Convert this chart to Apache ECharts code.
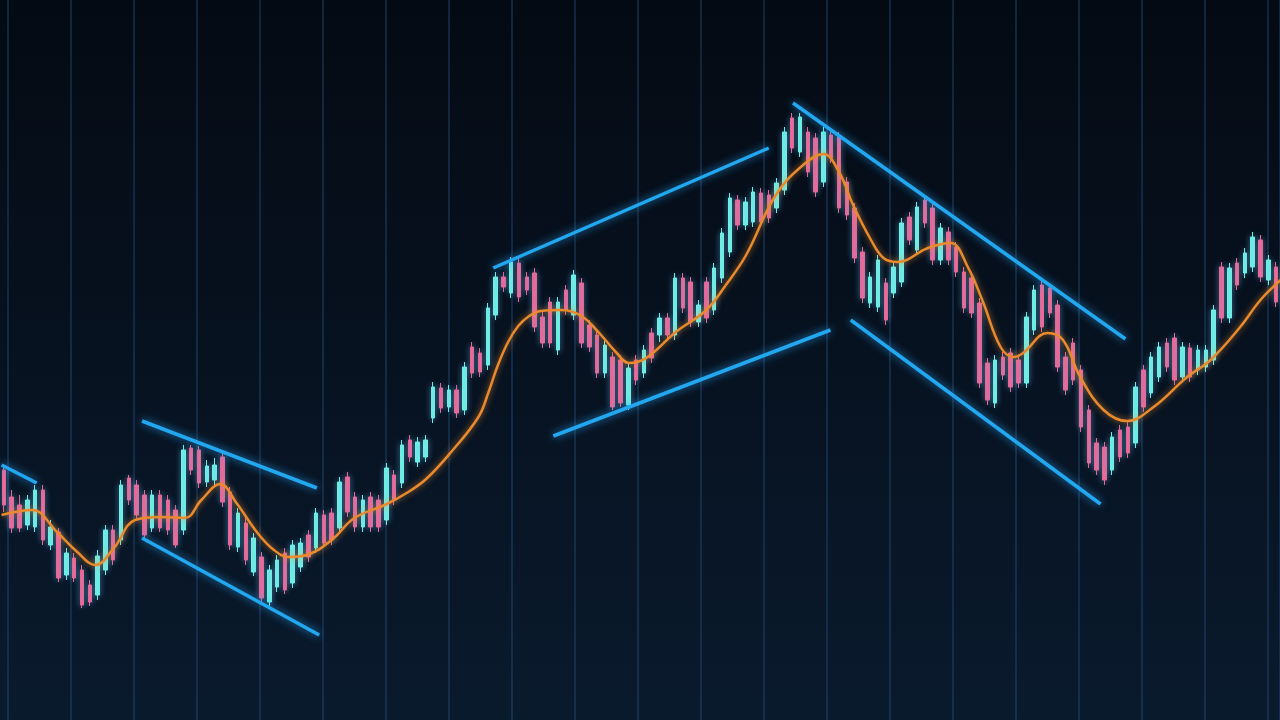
<!DOCTYPE html>
<html>
<head>
<meta charset="utf-8">
<style>
html,body{margin:0;padding:0;background:#050c17;}
#chart{width:1280px;height:720px;}
</style>
<script src="https://cdn.jsdelivr.net/npm/echarts@6/dist/echarts.min.js"></script>
</head>
<body>
<div id="chart"></div>
<script>
// [open, close, low, high]
const candles = [
[250,215,208,255],[223,192,187,230],[215,192,188,225],[195,220,190,225],[193,230,188,235],
[230,180,175,235],[175,193,170,200],[188,142,138,192],[145,167,140,172],[162,142,138,167],
[150,115,112,155],[135,118,114,140],[125,164,120,170],[150,190,145,195],[190,160,155,195],
[180,235,175,240],[242,220,215,245],[235,205,200,240],[225,185,180,230],[192,225,188,230],
[225,192,188,230],[220,190,185,225],[210,175,172,215],[190,270,185,275],[272,250,245,275],
[270,237,232,274],[238,254,233,260],[240,255,235,262],[263,218,213,268],[228,175,170,233],
[173,207,168,212],[197,160,155,202],[148,182,144,187],[163,122,118,168],[118,150,114,155],
[133,160,128,165],[167,130,126,172],[137,175,132,180],[153,177,148,182],[185,163,158,190],
[172,207,167,212],[205,177,172,210],[207,180,175,212],[192,238,187,243],[243,208,203,248],
[223,193,188,228],[193,220,188,225],[223,193,188,228],[220,193,188,225],[200,252,195,257],
[245,220,215,250],[237,275,232,280],[280,263,258,285],[258,278,253,283],[263,280,258,285],
[302,333,297,338],[332,312,307,337],[313,330,308,335],[330,307,302,335],[310,353,305,358],
[373,347,342,378],[367,348,343,372],[355,412,350,417],[405,443,400,448],[443,433,428,448],
[427,458,422,463],[457,423,418,462],[443,430,425,448],[447,393,388,452],[403,377,372,408],
[418,377,372,423],[370,418,365,423],[430,410,405,435],[405,445,400,450],[437,377,372,442],
[395,373,368,400],[385,347,342,390],[347,375,342,380],[363,313,310,368],[360,317,313,365],
[315,352,310,357],[360,340,335,365],[347,370,342,375],[387,362,357,392],[385,402,378,407],
[402,385,380,407],[385,442,380,447],[442,412,407,447],[438,398,393,443],[398,415,393,420],
[438,402,397,443],[410,452,405,457],[442,487,437,492],[468,522,463,527],[520,495,490,525],
[495,518,490,523],[498,528,493,533],[527,498,493,532],[525,502,497,530],[512,537,507,542],
[530,588,525,593],[602,572,567,607],[568,603,563,607],[588,548,543,593],[582,528,523,587],
[538,588,533,593],[585,562,557,590],[583,512,507,588],[538,505,500,543],[512,462,457,517],
[468,422,417,473],[417,443,412,448],[413,460,408,465],[437,400,395,442],[427,453,422,458],
[438,497,433,502],[503,480,475,508],[470,513,465,518],[520,497,492,525],[512,460,455,517],
[460,492,455,497],[488,460,455,493],[473,448,443,478],[448,412,407,453],[442,407,402,447],
[417,337,332,422],[357,320,315,362],[317,360,312,365],[363,345,340,368],[367,333,328,372],
[360,337,332,365],[337,403,332,408],[390,430,385,435],[435,393,388,440],[432,407,402,437],
[415,353,348,420],[363,330,325,368],[377,340,335,382],[350,293,288,355],[310,257,252,315],
[277,250,245,282],[273,240,235,278],[250,283,245,288],[290,263,258,295],[293,267,262,298],
[277,333,272,338],[350,313,308,355],[327,363,322,368],[343,373,338,378],[377,353,348,382],
[382,340,335,387],[343,373,338,378],[372,343,338,377],[350,370,345,375],[353,370,348,375],
[360,410,355,415],[453,402,397,458],[402,452,397,457],[457,435,430,462],[447,467,442,472],
[453,483,448,488],[480,443,438,485],[440,460,435,465],[453,418,413,458]
];

const categories = candles.map((_, i) => 'T' + (i + 1));

// moving average: [candle position, value]
const maPoints = [
[-0.3,205],[3.6,210],[6.8,188],[9.4,168],[11.7,155],[14.1,172],[16.8,200],[20.2,203],
[23.2,202],[25.3,220],[27.7,236],[29.8,217],[32.4,188],[34.6,170],[36.5,163],[38.8,165],
[42.0,180],[44.9,202],[48.8,215],[51.6,227],[54.1,241],[57.3,268],[60.8,303],[62.1,328],
[63.3,355],[64.6,378],[65.9,394],[67.3,404],[68.8,409],[71.4,410],[74.0,404],[76.5,385],
[78.4,368],[80.1,357],[82.3,362],
[86.1,388],[90.0,410],[92.5,435],[95.1,465],[98.9,525],[102.4,555],[105.0,566],[107.0,548],
[108.8,515],[111.1,480],[112.7,462],[114.5,458],[118.4,472],[121.3,477],[123.5,453],
[125.5,417],[127.7,373],[129.4,363],[130.6,367],[133.7,387],[135.7,380],[137.9,343],
[140.9,310],[143.9,299],[147.3,313],[151.6,343],[154.6,360],[158.4,393],[161.0,420],[163.6,440]
];

// channel / trend lines: [[start pos, value], [end pos, value]]
const trendLines = [
[[-0.3,255],[4.2,237]],
[[17.7,299],[40.1,232]],
[[17.7,182],[40.4,85]],
[[62.7,452],[98.0,572]],
[[70.4,284],[105.9,390]],
[[101.1,617],[143.7,381]],
[[108.5,400],[140.5,216]]
];

const chart = echarts.init(document.getElementById('chart'));

const series = [
  {
    type: 'candlestick',
    xAxisIndex: 0, yAxisIndex: 0,
    data: candles,
    barWidth: 4,
    z: 3,
    itemStyle: {
      color: '#6fefe4', color0: '#ea6594',
      borderColor: '#6fefe4', borderColor0: '#ea6594',
      borderWidth: 1,
      shadowBlur: 6, shadowColor: 'rgba(120,200,255,0.45)'
    }
  },
  {
    type: 'line',
    xAxisIndex: 1, yAxisIndex: 0,
    data: maPoints,
    smooth: 0.4,
    symbol: 'none',
    z: 4,
    lineStyle: { color: '#e98a2d', width: 2.5, shadowBlur: 6, shadowColor: 'rgba(255,150,50,0.7)' }
  }
];
trendLines.forEach(seg => series.push({
  type: 'line',
  xAxisIndex: 1, yAxisIndex: 0,
  data: seg,
  symbol: 'none',
  z: 5,
  lineStyle: { color: '#22a8f0', width: 3.5, shadowBlur: 8, shadowColor: 'rgba(40,170,255,0.8)' }
}));

chart.setOption({
  animation: false,
  backgroundColor: {
    type: 'linear', x: 0, y: 0, x2: 0, y2: 1,
    colorStops: [{ offset: 0, color: '#040a13' }, { offset: 1, color: '#0a1a2d' }]
  },
  grid: [
    { left: -2, right: 0, top: 0, bottom: 0 },
    { left: 8, right: 0, top: 0, bottom: 0 }
  ],
  xAxis: [
    { type: 'category', gridIndex: 0, data: categories, boundaryGap: true,
      axisLine: { show: false }, axisTick: { show: false }, axisLabel: { show: false }, splitLine: { show: false } },
    { type: 'value', gridIndex: 0, min: -0.5, max: candles.length - 0.5, show: false },
    { type: 'value', gridIndex: 1, min: 0, max: 20.19, interval: 1,
      axisLine: { show: false }, axisTick: { show: false }, axisLabel: { show: false },
      splitLine: { show: true, lineStyle: { color: 'rgba(40,85,130,0.38)', width: 2 } } }
  ],
  yAxis: [
    { type: 'value', gridIndex: 0, min: 0, max: 720, show: false },
    { type: 'value', gridIndex: 1, min: 0, max: 1, show: false }
  ],
  series: series
});
</script>
</body>
</html>
